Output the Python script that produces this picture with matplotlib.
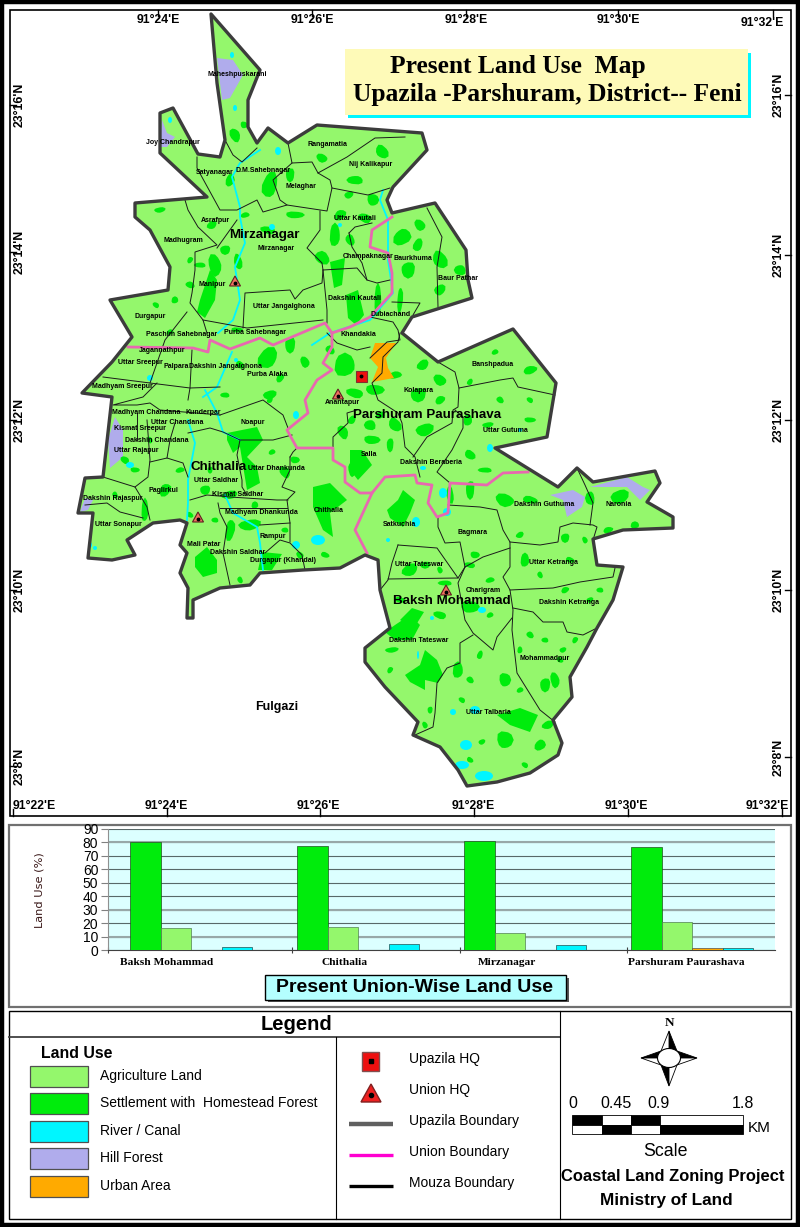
import matplotlib
matplotlib.use('Agg')
import matplotlib.pyplot as plt
import numpy as np
from matplotlib.patches import Polygon, Rectangle, Ellipse

plt.rcParams['font.family'] = ['Liberation Sans', 'DejaVu Sans']

# Bar chart values (%)
unions = ['Baksh Mohammad', 'Chithalia', 'Mirzanagar', 'Parshuram Paurashava']
settlement_pct = [80.5, 77, 81, 76.5]
agriculture_pct = [16.5, 17, 13, 20.5]
urban_pct = [0, 0, 0, 1.2]
river_pct = [2, 4.5, 3.5, 1.2]

# Colours
AGRI = '#94F76C'
SETTLE = '#00EC0C'
RIVER = '#00F6FF'
HILL = '#B0ACEC'
URBAN = '#FFAA00'
BORDER = '#3C3C3C'
PINK = '#E868B0'

# Map geometry, in pixels of the sheet
outline = [(211,14),(260,70),(248,100),(248,127),(257,143),(268,128),(288,143),(317,125),(422,133),(427,150),
           (393,187),(387,200),(392,213),(435,203),(466,250),(468,280),(472,298),(412,317),(402,333),(438,362),
           (513,329),(556,383),(547,437),(495,448),(558,487),(577,468),(593,482),(655,471),(660,483),(647,502),
           (673,517),(673,528),(623,530),(593,539),(597,565),(623,567),(613,600),(597,628),(587,647),(570,677),
           (572,697),(553,720),(562,743),(558,755),(530,773),(497,782),(467,786),(458,770),(440,747),(413,735),
           (418,722),(385,687),(365,662),(365,648),(390,628),(380,590),(378,560),(365,555),(340,568),(303,570),
           (260,573),(250,585),(220,588),(193,600),(193,618),(187,618),(188,588),(180,573),(187,553),(180,545),
           (187,523),(180,520),(153,523),(127,540),(135,555),(112,560),(88,558),(93,513),(78,513),(85,478),
           (103,477),(112,397),(82,393),(112,362),(132,337),(110,300),(168,290),(170,267),(150,230),(135,217),
           (135,203),(207,197),(160,153),(160,113),(173,108),(198,154),(220,157),(225,140),(217,83)]

hill_forest = [
    [(217,58),(233,60),(243,75),(230,98),(222,100)],
    [(162,120),(167,133),(175,137),(167,147),(160,147)],
    [(115,417),(123,430),(123,457),(110,468),(108,440)],
    [(550,495),(573,490),(585,497),(582,507),(567,517),(563,500)],
    [(590,487),(627,477),(643,487),(650,490),(640,500),(627,487)],
    [(85,498),(93,500),(88,510),(80,512)],
]
urban_area = [(375,343),(396,343),(386,358),(388,368),(394,378),(372,382),(378,367),(370,358)]

settlement_polys = [
    [(405,675),(420,665),(425,650),(437,660),(443,675),(438,683),(425,680),(425,690),(410,682)],
    [(395,625),(410,615),(420,625),(412,640),(395,640),(385,632)],
    [(387,510),(398,500),(403,490),(415,500),(410,513),(403,527),(390,518)],
    [(227,433),(257,427),(263,440),(247,457),(257,467),(260,483),(247,490),(240,447),(233,453),(227,440)],
    [(195,557),(207,547),(217,560),(217,573),(203,577),(195,567)],
    [(313,487),(330,483),(347,500),(330,513),(333,537),(323,530),(313,507)],
    [(262,552),(282,554),(272,570),(258,570)],
    [(497,715),(520,708),(538,715),(530,732),(510,725)],
    [(350,450),(362,450),(372,465),(358,480),(350,470)],
    [(400,620),(412,608),(424,612),(414,628)],
    [(200,300),(210,270),(217,280),(215,300),(205,318),(197,312)],
    [(346,295),(358,290),(364,315),(356,325),(348,318)],
    [(330,262),(345,258),(342,285),(334,288)],
]
# cx, cy, rx, ry
settlement_spots = [(235,135,5,7),(244,125,3,4),(230,180,4,7),(270,185,8,12),(290,175,5,6),(322,158,6,4),(382,152,6,7),
    (355,180,7,5),(349,195,4,4),(340,215,6,5),(335,235,6,10),(350,240,5,5),(365,218,6,5),(373,200,5,7),
    (402,237,8,9),(418,245,5,6),(408,270,8,7),(420,225,6,5),(440,260,7,9),(460,270,5,6),(440,290,5,6),
    (400,300,3,12),(378,300,4,14),(322,258,8,6),(268,230,7,4),(295,215,8,4),(245,215,4,3),
    (212,225,5,4),(225,250,6,4),(215,265,7,10),(238,262,4,8),(200,265,5,3),(160,210,5,3),(190,260,3,3),
    (175,300,4,3),(190,285,5,3),(156,305,3,3),(237,330,5,3),(170,332,3,3),(268,358,10,10),(290,345,6,7),
    (305,362,5,5),(240,365,4,4),(225,395,4,3),(270,395,6,5),(280,378,4,4),(345,365,12,10),(330,350,5,4),
    (355,393,8,5),(375,390,8,6),(395,375,6,4),(423,365,6,5),(418,395,9,6),(440,380,7,5),(395,425,6,7),
    (370,425,5,6),(425,430,8,7),(440,400,5,4),(468,420,5,5),(370,390,4,3),(343,432,5,7),(372,440,7,5),
    (380,415,4,4),(352,420,4,4),(390,445,4,6),(352,470,4,6),(470,455,5,5),(485,470,6,3),(488,425,5,3),
    (530,370,7,4),(555,372,4,4),(500,400,4,3),(530,400,3,3),(530,420,5,3),(495,352,3,3),(470,382,3,3),
    (470,490,5,8),(505,500,10,6),(530,500,7,4),(590,498,4,8),(620,497,8,8),(608,530,5,3),(635,525,5,3),
    (450,495,4,8),(470,565,5,3),(475,555,4,4),(490,580,4,3),(520,535,4,3),(565,538,5,4),(585,540,3,3),
    (570,560,4,3),(600,590,3,3),(590,600,3,3),(565,590,4,3),(525,560,5,6),(540,575,3,3),(440,615,6,4),
    (470,607,8,7),(490,615,3,3),(410,570,8,6),(425,565,6,3),(440,570,3,3),(400,600,5,3),(445,583,6,3),
    (392,650,6,3),(390,670,3,3),(458,670,6,7),(470,680,4,3),(462,700,3,3),(505,680,5,8),(520,690,3,3),
    (480,655,3,4),(545,685,6,6),(555,680,5,7),(560,660,3,3),(545,640,3,3),(563,650,3,3),(575,640,3,3),
    (520,650,3,3),(530,635,4,3),(525,765,3,3),(505,740,7,10),(540,745,5,6),(548,725,6,4),(430,710,3,3),
    (425,725,3,3),(470,760,3,3),(450,775,3,3),(482,742,3,3),(165,490,6,6),(145,510,4,10),(115,495,3,3),
    (125,460,4,4),(135,470,4,3),(180,470,4,3),(230,495,8,4),(205,490,6,4),(150,440,3,3),(190,515,3,3),
    (215,520,3,3),(250,525,10,6),(230,530,5,10),(255,505,4,3),(240,580,3,3),(285,472,5,6),(295,460,4,4),
    (272,452,3,3),(270,400,3,3),(210,470,3,3),(300,555,4,3),(325,555,4,3),(285,530,3,3)]

river_lines = [
    [(260,150),(240,163),(232,177),(240,207),(240,217),(245,243),(235,267),(240,300),(233,320),(218,333)],
    [(383,190),(380,200),(388,220),(388,260),(393,293),(370,320),(330,333),(312,345)],
    [(232,352),(217,387),(203,397)],
    [(205,390),(217,413),(223,432),(240,440)],
    [(188,420),(195,443),(188,480),(188,503),(187,520)],
    [(225,495),(233,513),(257,527),(260,543),(263,570)],
]
# cx, cy, rx, ry
ponds = [(278,151,3,4),(272,227,3,3),(340,225,2,2),(236,360,2,2),(490,448,3,4),(443,493,4,5),(416,522,4,5),(447,512,4,4),
         (318,540,7,5),(296,545,4,4),(462,765,7,4),(484,776,9,5),(466,745,6,5),(453,712,3,3),(475,710,5,4),
         (418,655,1,4),(432,618,2,2),(482,610,4,3),(520,430,2,2),(296,415,3,4),(130,465,4,3),(95,548,2,2),
         (170,120,2,3),(232,55,2,3),(235,108,2,3),(90,545,2,3),(388,540,2,2),(423,468,3,2),(150,378,3,3)]

union_lines = [
    [(392,217),(372,230),(370,247),(388,253),(392,273),(392,293),(370,317),(350,327),(332,333),(325,323),(273,345),(260,338),(230,349),(210,340),(208,352),(193,348),(128,347)],
    [(332,333),(332,347),(323,363),(332,370),(317,380),(305,400),(308,413),(287,430),(297,448),(333,448),(333,460),(345,467),(345,482),(360,493),(372,493),(385,477),(415,475),(417,483),(432,485),(428,503),(437,517),(448,513),(450,483),(487,485),(503,473),(528,472)],
    [(372,493),(355,530),(367,553)],
]

mouza_lines = [
    [(225,140),(233,155),(242,162),(257,148)],
    [(197,157),(197,168),(220,210),(237,210),(257,200),(263,212),(287,205),(280,200),(273,180),(292,163),(288,143)],
    [(292,163),(312,162),(318,173),(330,180),(332,188),(327,211),(287,205)],
    [(318,173),(347,157),(375,138),(405,137)],
    [(332,188),(368,195),(390,188)],
    [(185,200),(188,210),(198,227),(217,245),(195,252),(195,270),(192,293),(190,303),(203,320),(207,333)],
    [(217,248),(237,220)],
    [(320,211),(320,230),(307,248),(322,263),(323,270),(322,283),(303,290),(295,299),(290,290),(245,293),(243,328)],
    [(323,270),(357,268),(367,280),(377,283),(390,280)],
    [(323,270),(327,310),(327,323)],
    [(349,233),(355,227),(372,223)],
    [(349,233),(352,247),(362,263),(367,280)],
    [(427,208),(442,237),(437,267),(438,307)],
    [(392,302),(420,303),(413,315)],
    [(370,317),(393,322),(398,330),(400,340),(387,342),(370,358)],
    [(327,333),(337,343),(357,350),(370,347)],
    [(203,320),(247,328),(323,320)],
    [(187,312),(165,340),(150,383)],
    [(103,377),(150,383),(190,388),(220,387)],
    [(192,350),(190,388),(188,400)],
    [(157,383),(143,397),(113,405),(137,405),(150,403),(160,410),(220,415)],
    [(137,413),(137,440)],
    [(147,420),(150,460),(148,477),(135,487)],
    [(103,477),(135,487),(147,507),(150,520)],
    [(85,505),(107,503),(120,512),(143,518)],
    [(150,462),(167,458),(183,463),(188,477)],
    [(167,458),(170,440),(175,423)],
    [(188,433),(210,428),(223,432),(240,440),(273,440),(292,435)],
    [(220,415),(263,400),(283,415),(288,428)],
    [(190,500),(207,495),(230,497),(277,500),(288,500)],
    [(240,440),(237,455),(242,480),(242,487),(247,495)],
    [(290,457),(290,470),(282,487),(295,492),(287,500),(290,523),(290,542)],
    [(218,503),(220,513),(227,527),(223,553),(230,585)],
    [(220,508),(287,508)],
    [(260,525),(290,523)],
    [(265,553),(280,540),(290,543),(302,555),(305,570)],
    [(290,457),(293,452),(297,448)],
    [(333,448),(333,437),(348,423),(347,413),(357,410)],
    [(400,333),(398,342),(383,357),(382,373),(372,383),(378,400),(398,413),(402,423),(405,447),(415,457),(420,477)],
    [(438,362),(455,372),(459,388),(458,407),(453,410),(452,423),(427,437),(413,457)],
    [(459,388),(500,380),(513,378),(518,387),(555,395)],
    [(455,410),(463,417),(463,428),(452,450),(437,472),(450,483)],
    [(448,505),(480,507),(497,510),(503,530),(510,542),(510,567),(503,577),(510,590),(513,610),(512,630),(517,673),(540,710),(555,722)],
    [(510,542),(540,545),(558,542),(560,527),(573,523),(593,525),(597,527),(593,540)],
    [(577,468),(585,485),(593,503),(590,525)],
    [(438,517),(438,527),(445,543),(460,542),(465,567),(483,557),(510,548)],
    [(398,545),(437,548),(458,578),(465,567)],
    [(398,545),(392,563),(388,580),(380,590)],
    [(388,579),(458,578)],
    [(465,567),(458,583),(465,620),(473,633),(493,650),(497,637),(512,618)],
    [(510,590),(553,588),(580,582),(613,577),(615,568)],
    [(513,608),(533,612),(543,622),(563,622),(567,632),(583,635),(597,628)],
    [(473,635),(460,643),(460,663),(447,668),(437,683),(435,713),(433,727),(415,735)],
]

mouza_labels = [('Maheshpuskarani',237,75),('Joy Chandrapur',173,143),('Satyanagar',215,173),('D.M.Sahebnagar',263,171),
    ('Melaghar',301,187),('Rangamatia',327,144),('Nij Kalikapur',371,165),('Asrafpur',215,220),('Madhugram',183,241),
    ('Mirzanagar',276,248),('Uttar Kautali',355,218),('Champaknagar',368,256),('Baurkhuma',413,258),('Baur Pathar',458,278),
    ('Manipur',212,284),('Uttar Jangalghona',284,306),('Dakshin Kautali',354,298),('Dubiachand',391,314),('Durgapur',150,317),
    ('Paschim Sahebnagar',182,334),('Purba Sahebnagar',255,332),('Khandakia',358,335),('Jagannathpur',162,350),
    ('Uttar Sreepur',140,363),('Palpara',176,366),('Dakshin Jangalghona',225,366),('Purba Alaka',267,375),('Kolapara',418,391),
    ('Banshpadua',493,365),('Madhyam Sreepur',122,387),('Anantapur',342,402),('Madhyam Chandana',146,412),('Kunderpar',203,412),
    ('Uttar Chandana',177,422),('Kismat Sreepur',140,428),('Dakshin Chandana',157,440),('Noapur',253,423),('Uttar Rajapur',136,451),
    ('Salla',369,455),('Uttar Gutuma',505,430),('Dakshin Beraberia',431,463),('Uttar Dhankunda',276,468),('Uttar Saldhar',216,481),
    ('Paglirkul',163,491),('Dakshin Rajaspur',113,499),('Kismat Saldhar',238,494),('Madhyam Dhankunda',261,512),('Chithalia',329,510),
    ('Satkuchia',399,525),('Uttar Sonapur',118,525),('Rampur',273,536),('Mali Patar',204,545),('Dakshin Saldhar',238,553),
    ('Durgapur (Khandal)',283,561),('Dakshin Guthuma',544,505),('Naronia',619,505),('Bagmara',473,532),('Uttar Ketranga',553,562),
    ('Uttar Tateswar',419,564),('Charigram',483,591),('Dakshin Ketranga',569,603),('Dakshin Tateswar',419,640),('Mohammadpur',545,658),
    ('Uttar Talbaria',488,713)]
union_labels = [('Mirzanagar',264,235),('Parshuram Paurashava',427,415),('Chithalia',219,467),('Baksh Mohammad',452,601)]

union_hq = [(235,281),(198,517),(338,394),(446,590)]
upazila_hq = [(361,376)]

top_ticks = [('91°24\'E',158,20),('91°26\'E',312,20),('91°28\'E',466,20),('91°30\'E',618,20),('91°32\'E',762,23)]
bottom_ticks = [('91°22\'E',34,806),('91°24\'E',166,806),('91°26\'E',318,806),('91°28\'E',473,806),('91°30\'E',626,806),('91°32\'E',767,806)]
left_ticks = [('23°16\'N',20,105),('23°14\'N',20,252),('23°12\'N',20,420),('23°10\'N',20,590),('23°8\'N',20,766)]
right_ticks = [('23°16\'N',779,95),('23°14\'N',779,255),('23°12\'N',779,420),('23°10\'N',779,590),('23°8\'N',779,757)]

legend_fill = [('Agriculture Land',AGRI,1066),('Settlement with  Homestead Forest',SETTLE,1093),
               ('River / Canal',RIVER,1121),('Hill Forest',HILL,1148),('Urban Area',URBAN,1176)]

fig = plt.figure(figsize=(8, 12.27), dpi=100)
ax = fig.add_axes([0, 0, 1, 1])
ax.set_xlim(0, 800)
ax.set_ylim(1227, 0)
ax.axis('off')

# sheet frame
ax.add_patch(Rectangle((1.5, 1.5), 796.5, 1223, fill=False, ec='black', lw=3.2))
ax.add_patch(Rectangle((10, 10), 781, 806, fill=False, ec='black', lw=1.2))

# ticks of the graticule
for _, x, _y in top_ticks[:-1]:
    ax.plot([x, x], [10, 16], color='black', lw=1)
ax.plot([773, 773], [10, 16], color='black', lw=1)
for x in [13, 167, 320, 474, 628, 782]:
    ax.plot([x, x], [809, 816], color='black', lw=1)
for _, _x, y in left_ticks:
    ax.plot([10, 16], [y, y], color='black', lw=1)
for _, _x, y in right_ticks:
    ax.plot([785, 791], [y, y], color='black', lw=1)

for label, x, y in top_ticks + bottom_ticks:
    ax.text(x, y, label, ha='center', va='center', fontsize=8.8, fontweight='bold')
for label, x, y in left_ticks + right_ticks:
    ax.text(x, y, label, ha='center', va='center', fontsize=8.8, fontweight='bold', rotation=90)

# land use polygons, clipped to the upazila
base = Polygon(outline, closed=True, fc=AGRI, ec='none', zorder=1)
ax.add_patch(base)
clipper = Polygon(outline, closed=True, transform=ax.transData)
for poly in hill_forest:
    p = Polygon(poly, closed=True, fc=HILL, ec='none', zorder=2)
    ax.add_patch(p)
    p.set_clip_path(clipper)
for poly in settlement_polys:
    p = Polygon(poly, closed=True, fc=SETTLE, ec='none', zorder=2)
    ax.add_patch(p)
    p.set_clip_path(clipper)
# rough blob outline for the smaller patches, turned a bit for each one
lobes = np.array([1, 1.1, 1.2, 1.0, 0.82, 0.88, 1.08, 1.25, 1.05, 0.85, 0.8, 0.9])
angles = np.linspace(0, 2 * np.pi, len(lobes), endpoint=False)
for i, (cx, cy, rx, ry) in enumerate(settlement_spots):
    r = np.roll(lobes, i * 5)
    verts = np.column_stack([cx + rx * r * np.cos(angles), cy + ry * r * np.sin(angles)])
    p = Polygon(verts, closed=True, fc=SETTLE, ec='none', zorder=2)
    ax.add_patch(p)
    p.set_clip_path(clipper)
for cx, cy, rx, ry in ponds:
    p = Ellipse((cx, cy), 2 * rx, 2 * ry, fc=RIVER, ec='none', zorder=3)
    ax.add_patch(p)
    p.set_clip_path(clipper)
ax.add_patch(Polygon(urban_area, closed=True, fc=URBAN, ec='none', zorder=3))
for line in river_lines:
    xs, ys = zip(*line)
    l, = ax.plot(xs, ys, color=RIVER, lw=1.3, zorder=3)
    l.set_clip_path(clipper)
for line in mouza_lines:
    xs, ys = zip(*line)
    ax.plot(xs, ys, color='#1a1a1a', lw=0.7, zorder=4)
for line in union_lines:
    xs, ys = zip(*line)
    ax.plot(xs, ys, color=PINK, lw=2, zorder=5)
ax.add_patch(Polygon(outline, closed=True, fill=False, ec=BORDER, lw=2.4, joinstyle='round', zorder=6))

# headquarters
for x, y in union_hq:
    ax.add_patch(Polygon([(x, y - 5), (x + 5.5, y + 5), (x - 5.5, y + 5)], closed=True, fc='#F07060', ec='#602020', lw=0.8, zorder=7))
    ax.plot([x], [y + 1.5], marker='o', ms=1.8, color='black', zorder=8)
for x, y in upazila_hq:
    ax.add_patch(Rectangle((x - 5.5, y - 5.5), 11, 11, fc='#EE1010', ec='#803030', lw=0.8, zorder=7))
    ax.plot([x], [y], marker='o', ms=1.8, color='black', zorder=8)

for label, x, y in mouza_labels:
    ax.text(x, y, label, ha='center', va='center', fontsize=5, fontweight='bold', zorder=9)
for label, x, y in union_labels:
    ax.text(x, y, label, ha='center', va='center', fontsize=9.6, fontweight='bold', zorder=9)
ax.text(277, 707, 'Fulgazi', ha='center', va='center', fontsize=9, fontweight='bold')

# title box
ax.add_patch(Rectangle((348, 53), 403, 65, fc=RIVER, ec='none', zorder=9))
ax.add_patch(Rectangle((345, 49), 403, 66, fc='#FEFAB8', ec='none', zorder=10))
ax.text(518, 66, 'Present Land Use  Map', ha='center', va='center', family='Liberation Serif',
        fontsize=18.4, fontweight='bold', zorder=11)
ax.text(547, 95, 'Upazila -Parshuram, District-- Feni', ha='center', va='center', family='Liberation Serif',
        fontsize=18.4, fontweight='bold', zorder=11)

# chart panel
ax.add_patch(Rectangle((9, 825), 782, 182, fc='white', ec='#707070', lw=1.6))
ax.text(40, 890, 'Land Use (%)', rotation=90, ha='center', va='center', fontsize=8.2,
        family='DejaVu Sans', color='#3a1818')
ax.add_patch(Rectangle((268, 978), 301, 24, fc='#555555', ec='none', zorder=3))
ax.add_patch(Rectangle((265, 975), 301, 25, fc='#B4FFFF', ec='black', lw=1, zorder=4))
ax.text(415, 988, 'Present Union-Wise Land Use', ha='center', va='center', fontsize=14, fontweight='bold', zorder=5)

# legend panel
ax.add_patch(Rectangle((9, 1011), 782, 208, fc='white', ec='black', lw=1))
ax.plot([9, 560], [1037, 1037], color='#404040', lw=1.3)
ax.plot([336, 336], [1037, 1219], color='black', lw=0.8)
ax.plot([560, 560], [1011, 1219], color='black', lw=0.8)
ax.text(297, 1024, 'Legend', ha='center', va='center', fontsize=14.5, fontweight='bold')
ax.text(41, 1053, 'Land Use', ha='left', va='center', fontsize=11.4, fontweight='bold')
for label, color, y in legend_fill:
    ax.add_patch(Rectangle((30, y), 58, 21, fc=color, ec='#505050', lw=0.9))
    ax.text(100, y + 10, label, ha='left', va='center', fontsize=10)

ax.add_patch(Rectangle((362, 1052), 17, 19, fc='#EE1010', ec='#805050', lw=1))
ax.plot([371], [1061], marker='s', ms=2.5, color='black')
ax.add_patch(Polygon([(371, 1084), (381, 1102), (361, 1102)], closed=True, fc='#EE2020', ec='#802020', lw=1))
ax.plot([371], [1095], marker='o', ms=3, color='black')
ax.plot([349, 393], [1124, 1124], color='#606060', lw=3.2, solid_capstyle='butt')
ax.plot([349, 393], [1155, 1155], color='#FF00D0', lw=2.4, solid_capstyle='butt')
ax.plot([349, 393], [1186, 1186], color='black', lw=2.4, solid_capstyle='butt')
for label, y in [('Upazila HQ', 1059), ('Union HQ', 1090), ('Upazila Boundary', 1121), ('Union Boundary', 1152), ('Mouza Boundary', 1183)]:
    ax.text(409, y, label, ha='left', va='center', fontsize=10)

# north arrow
cx, cy = 669, 1058
ax.text(669, 1023, 'N', ha='center', va='center', fontsize=9.5, family='Liberation Serif', fontweight='bold')
arms = [((0, -27), (8, -7), 'black'), ((0, -27), (-8, -7), 'white'),
        ((0, 28), (-8, 7), 'black'), ((0, 28), (8, 7), 'white'),
        ((-28, 0), (-8, -7), 'black'), ((-28, 0), (-8, 7), 'white'),
        ((28, 0), (8, -7), 'black'), ((28, 0), (8, 7), 'white')]
for tip, base_pt, color in arms:
    ax.add_patch(Polygon([(cx + tip[0], cy + tip[1]), (cx + base_pt[0], cy + base_pt[1]), (cx, cy)],
                         closed=True, fc=color, ec='black', lw=0.6))
ax.add_patch(Ellipse((cx, cy), 23, 19, fc='white', ec='black', lw=0.8))

# scale bar
scale_x = [572, 602, 631, 660, 743]
for i in range(4):
    top = 'black' if i % 2 == 0 else 'white'
    bot = 'white' if i % 2 == 0 else 'black'
    ax.add_patch(Rectangle((scale_x[i], 1115), scale_x[i + 1] - scale_x[i], 9.5, fc=top, ec='black', lw=0.6))
    ax.add_patch(Rectangle((scale_x[i], 1124.5), scale_x[i + 1] - scale_x[i], 9.5, fc=bot, ec='black', lw=0.6))
for label, x in [('0', 573), ('0.45', 616), ('0.9', 658), ('1.8', 743)]:
    ax.text(x, 1103, label, ha='center', va='center', fontsize=11.5)
ax.text(759, 1128, 'KM', ha='center', va='center', fontsize=11)
ax.text(665, 1151, 'Scale', ha='center', va='center', fontsize=12.8)
ax.text(673, 1177, 'Coastal Land Zoning Project', ha='center', va='center', fontsize=11.9, fontweight='bold')
ax.text(666, 1201, 'Ministry of Land', ha='center', va='center', fontsize=12.3, fontweight='bold')

# bar chart, placed over the sheet in its own axes
chart = fig.add_axes([108 / 800, (1227 - 950) / 1227, 667 / 800, 121 / 1227], facecolor='#DCFFFF')
x = np.arange(len(unions))
w = 0.183
chart.bar(x, settlement_pct, w, align='edge', color=SETTLE, edgecolor='#205020', lw=0.5, zorder=3)
chart.bar(x + w, agriculture_pct, w, align='edge', color=AGRI, edgecolor='#508050', lw=0.5, zorder=3)
chart.bar(x + 2 * w, urban_pct, w, align='edge', color=URBAN, edgecolor='#505050', lw=0.5, zorder=3)
chart.bar(x + 3 * w, river_pct, w, align='edge', color=RIVER, edgecolor='#205050', lw=0.5, zorder=3)
chart.set_xlim(-0.132, 3.862)
chart.set_ylim(0, 90)
chart.set_yticks(np.arange(0, 100, 10))
chart.set_yticklabels(np.arange(0, 100, 10), fontsize=10)
chart.grid(axis='y', color='#586868', lw=0.8, zorder=1)
for v in [10, 30, 80]:
    chart.axhline(v, color='#98A8A8', lw=1.5, zorder=2)
chart.set_xticks([-0.132, 0.97, 1.976, 2.976])
chart.set_xticklabels([])
for i, name in zip([0.22, 1.287, 2.257, 3.33], unions):
    chart.text(i, -9.5, name, ha='center', va='center', family='Liberation Serif', fontsize=8.2, fontweight='bold', clip_on=False)
chart.tick_params(axis='y', length=5, width=0.8, color='#808080', pad=2)
chart.tick_params(axis='x', length=4, width=0.8, color='#404040', direction='inout')
for side in ['top', 'right']:
    chart.spines[side].set_visible(False)
chart.spines['left'].set_color('#909090')
chart.spines['bottom'].set_color('#404040')

fig.savefig('out.png', dpi=100)
